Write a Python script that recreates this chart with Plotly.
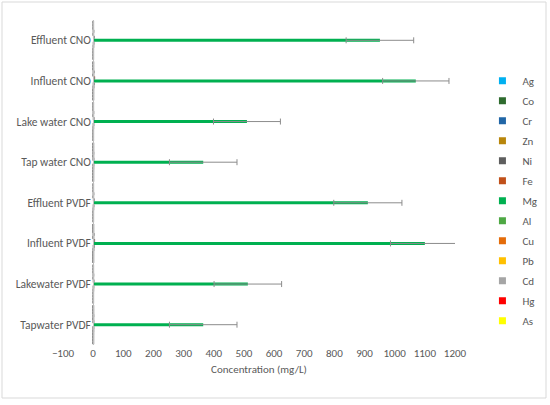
import plotly.graph_objects as go

categories = ["Effluent CNO", "Influent CNO", "Lake water CNO", "Tap water CNO",
              "Effluent PVDF", "Influent PVDF", "Lakewater PVDF", "Tapwater PVDF"]

metals = ["Ag", "Co", "Cr", "Zn", "Ni", "Fe", "Mg", "Al", "Cu", "Pb", "Cd", "Hg", "As"]

colors = ["#00B0F0", "#2E6B2E", "#2166A6", "#B8860B", "#5E5E5E", "#C0501A", "#00B050",
          "#4EA844", "#E46C0A", "#FFC000", "#A5A5A5", "#FF0000", "#FFFF00"]

# concentrations (mg/L), one list per metal, in category order
ag = [0.02, 0.03, 0.02, 0.01, 0.02, 0.03, 0.02, 0.01]
co = [0.05, 0.06, 0.04, 0.03, 0.05, 0.06, 0.04, 0.03]
cr = [0.10, 0.12, 0.08, 0.05, 0.09, 0.11, 0.08, 0.05]
zn = [1.2, 1.5, 0.9, 0.6, 1.1, 1.4, 0.8, 0.6]
ni = [0.3, 0.4, 0.2, 0.1, 0.3, 0.4, 0.2, 0.1]
fe = [2.5, 3.1, 1.8, 0.9, 2.2, 2.9, 1.7, 0.8]
mg = [951, 1070, 510, 365, 911, 1100, 513, 365]
al = [1.6, 2.0, 1.2, 0.7, 1.5, 1.9, 1.1, 0.7]
cu = [0.8, 1.0, 0.5, 0.3, 0.7, 0.9, 0.5, 0.3]
pb = [0.06, 0.08, 0.05, 0.03, 0.06, 0.07, 0.05, 0.03]
cd = [0.02, 0.03, 0.02, 0.01, 0.02, 0.03, 0.02, 0.01]
hg = [0.01, 0.01, 0.01, 0.005, 0.01, 0.01, 0.01, 0.005]
as_ = [0.03, 0.04, 0.02, 0.01, 0.03, 0.04, 0.02, 0.01]

# standard deviations
mg_err = [112, 110, 111, 112, 113, 114, 112, 112]
small_err = [1.5, 2, 1.5, 2, 1.5, 2, 1.5, 2]

values = [ag, co, cr, zn, ni, fe, mg, al, cu, pb, cd, hg, as_]

fig = go.Figure()
for name, vals, col in zip(metals, values, colors):
    err = mg_err if name == "Mg" else small_err
    fig.add_trace(go.Bar(
        y=categories, x=vals, name=name, orientation="h", showlegend=False,
        marker=dict(color=col, line=dict(width=0)),
        error_x=dict(type="data", array=err, color="#8C8C8C", thickness=1,
                     width=3 if name == "Mg" else 1.5),
    ))

# legend entries with small square swatches
for name, col in zip(metals, colors):
    fig.add_trace(go.Scatter(
        x=[None], y=[None], name=name, mode="markers", legendgroup=name,
        marker=dict(symbol="square", size=7, color=col),
    ))

txt = "#595959"
fig.update_layout(
    width=550, height=405,
    margin=dict(l=63, r=95, t=20, b=60, autoexpand=False),
    paper_bgcolor="white", plot_bgcolor="white",
    font=dict(family="Carlito, Calibri, 'Liberation Sans Narrow', 'Open Sans', sans-serif",
              size=11, color=txt),
    barmode="group", bargap=0.04, bargroupgap=0,
    xaxis=dict(range=[-100, 1200], dtick=100, showgrid=False, zeroline=False,
               showline=False, ticks="", tickfont=dict(size=11, color=txt),
               title=dict(text="Concentration (mg/L)", font=dict(size=11, color=txt),
                          standoff=6)),
    yaxis=dict(autorange="reversed", anchor="free", position=100 / 1300,
               showline=True, linecolor="#BFBFBF", linewidth=1, showgrid=False,
               ticks="", tickfont=dict(size=11.5, color=txt), automargin=False),
    legend=dict(x=1.07, y=0.858, xanchor="left", yanchor="top",
                font=dict(size=11, color=txt), tracegroupgap=1,
                traceorder="grouped", itemwidth=30),
    shapes=[dict(type="rect", xref="paper", yref="paper",
                 x0=-61 / 392, x1=483 / 392, y0=-53 / 325, y1=343 / 325,
                 line=dict(color="#D9D9D9", width=1), fillcolor="rgba(0,0,0,0)")],
)

fig.write_html("out.html", config={"displayModeBar": False},
               post_script="document.body.style.margin='0';")
